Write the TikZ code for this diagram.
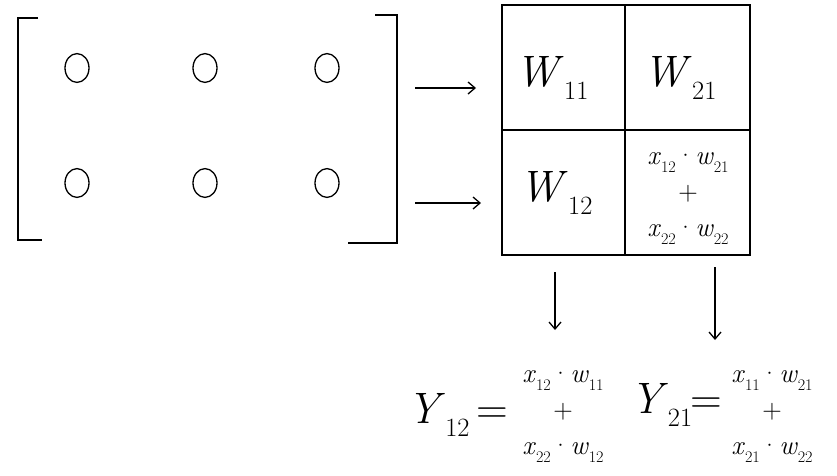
\documentclass[tikz,border=0pt]{standalone}
\usepackage{fontspec}
\usetikzlibrary{arrows.meta}
\newcommand{\lbl}[2]{\textit{#1}\raisebox{-0.3em}{\scalebox{0.6}{#2}}}
\newcommand{\dt}{\textperiodcentered}
\newcommand{\stk}[2]{\fontsize{27}{36}\selectfont\begin{tabular}{@{}c@{}}#1\\+\\#2\end{tabular}}
\begin{document}
\begin{tikzpicture}[x=1pt,y=-1pt,
  ink/.style={line width=1.3pt,black},
  circ/.style={circle,draw,line width=1.3pt,minimum width=24pt,inner sep=0pt},
  arr/.style={ink,-{Straight Barb[length=7pt,width=12pt]}},
  big/.style={font=\fontsize{44}{44}\selectfont,inner sep=0pt},
  sm/.style={inner sep=0pt}]
\useasboundingbox (0,0) rectangle (837,475);
\draw[ink] (38,18) -- (18,18) -- (18,240) -- (42,240);
\draw[ink] (375,15) -- (397,15) -- (397,243) -- (348,243);
\foreach \x/\n in {77/a,205/b,327/c}{
  \node[circ,yscale=1.2] (\n1) at (\x,68) {};
  \node[circ,yscale=1.2] (\n2) at (\x,183) {};}
\draw[ink] (502,5) rectangle (750,255);
\draw[ink] (625,5) -- (625,255);
\draw[ink] (502,130) -- (750,130);
\node[big] (w11) at (552,78) {\lbl{W}{11}};
\node[big] (w21) at (680,78) {\lbl{W}{21}};
\node[big] (w12) at (556,193) {\lbl{W}{12}};
\node[sm] (w22) at (688,193) {\stk{\lbl{x}{12}\dt\lbl{w}{21}}{\lbl{x}{22}\dt\lbl{w}{22}}};
\coordinate (r1) at (415,88); \coordinate (r1e) at (476,88);
\coordinate (r2) at (415,203); \coordinate (r2e) at (481,203);
\draw[arr] (r1) -- (r1e);
\draw[arr] (r2) -- (r2e);
\coordinate (d1) at (555,272); \coordinate (d1e) at (555,330);
\coordinate (d2) at (715,267); \coordinate (d2e) at (715,340);
\draw[arr] (d1) -- (d1e);
\draw[arr] (d2) -- (d2e);
\node[big] (y1) at (458,415) {\lbl{Y}{12}\,=};
\node[sm] (e1) at (563,411) {\stk{\lbl{x}{12}\dt\lbl{w}{11}}{\lbl{x}{22}\dt\lbl{w}{12}}};
\node[big] (y2) at (676,405) {\lbl{Y}{21}\hspace{-2pt}=};
\node[sm] (e2) at (772,411) {\stk{\lbl{x}{11}\dt\lbl{w}{21}}{\lbl{x}{21}\dt\lbl{w}{22}}};
\end{tikzpicture}
\end{document}
